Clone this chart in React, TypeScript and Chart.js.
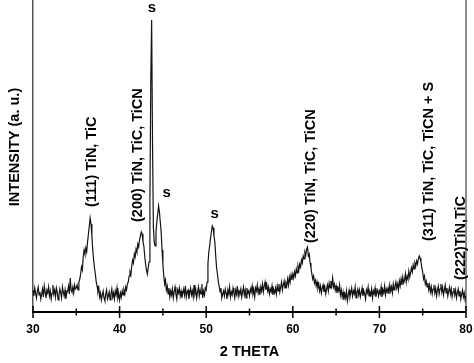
import React, { useEffect, useRef } from "react";
import { Chart, registerables } from "chart.js";

Chart.register(...registerables);

// 2θ grid: start angle and step of the scan
const START_ANGLE = 30;
const ANGLE_STEP = 0.1;

// Intensity (a.u.), one value every 0.1° from 30° to 80°
const intensity = [
  22, 16, 24, 19, 14, 21, 25, 17, 20, 13, // 30
  18, 23, 15, 26, 20, 14, 22, 19, 25, 16, // 31
  21, 13, 19, 27, 18, 22, 15, 24, 20, 12, // 32
  17, 23, 19, 14, 25, 20, 16, 22, 13, 19, // 33
  21, 26, 18, 34, 22, 20, 25, 19, 27, 23, // 34
  24, 27, 22, 30, 33, 38, 45, 42, 55, 62, // 35
  58, 64, 60, 70, 78, 86, 94, 88, 76, 62, // 36
  52, 44, 38, 30, 26, 20, 24, 15, 19, 12, // 37
  17, 21, 14, 11, 18, 22, 13, 16, 20, 12, // 38
  18, 23, 15, 19, 13, 21, 17, 24, 14, 18, // 39
  12, 19, 15, 21, 17, 22, 18, 25, 22, 28, // 40
  30, 36, 40, 37, 46, 52, 49, 58, 55, 63, // 41
  60, 68, 65, 72, 76, 80, 78, 70, 66, 56, // 42
  48, 42, 38, 44, 50, 110, 230, 292, 170, 85, // 43
  70, 66, 80, 90, 98, 106, 100, 90, 80, 62, // 44
  48, 36, 28, 32, 22, 26, 18, 24, 15, 21, // 45
  17, 23, 14, 20, 25, 18, 13, 22, 19, 24, // 46
  16, 21, 14, 19, 23, 17, 26, 15, 20, 22, // 47
  13, 19, 24, 17, 21, 15, 27, 18, 22, 14, // 48
  20, 25, 16, 22, 18, 28, 14, 21, 17, 24, // 49
  22, 30, 48, 60, 66, 74, 80, 86, 84, 76, // 50
  70, 56, 44, 38, 30, 26, 20, 24, 14, 18, // 51
  21, 16, 23, 19, 13, 22, 18, 25, 15, 20, // 52
  17, 24, 19, 14, 22, 18, 26, 16, 21, 19, // 53
  23, 15, 20, 25, 17, 22, 14, 24, 19, 21, // 54
  16, 23, 20, 26, 18, 22, 15, 24, 21, 27, // 55
  19, 23, 17, 25, 21, 28, 20, 26, 30, 22, // 56
  27, 21, 25, 18, 23, 20, 26, 17, 22, 19, // 57
  24, 18, 26, 21, 28, 20, 25, 30, 22, 27, // 58
  31, 24, 29, 26, 33, 27, 35, 30, 37, 32, // 59
  38, 34, 40, 36, 43, 39, 46, 42, 48, 45, // 60
  52, 49, 56, 53, 60, 57, 63, 65, 56, 58, // 61
  49, 44, 38, 33, 36, 29, 32, 26, 30, 24, // 62
  28, 21, 26, 19, 24, 27, 20, 25, 18, 23, // 63
  27, 21, 29, 24, 31, 26, 34, 25, 28, 22, // 64
  26, 19, 24, 21, 27, 17, 22, 15, 20, 12, // 65
  18, 14, 21, 11, 17, 22, 15, 19, 24, 16, // 66
  21, 18, 25, 14, 20, 23, 17, 22, 15, 19, // 67
  24, 16, 21, 18, 13, 22, 19, 25, 16, 20, // 68
  17, 23, 14, 21, 18, 24, 15, 20, 22, 16, // 69
  21, 18, 25, 15, 22, 19, 26, 17, 23, 20, // 70
  24, 18, 27, 21, 25, 19, 28, 22, 26, 30, // 71
  24, 28, 22, 31, 26, 33, 27, 35, 29, 32, // 72
  38, 30, 36, 33, 41, 35, 39, 44, 40, 47, // 73
  43, 49, 46, 51, 48, 53, 56, 54, 50, 44, // 74
  40, 33, 36, 28, 31, 25, 29, 22, 27, 20, // 75
  25, 18, 23, 27, 19, 24, 16, 22, 26, 18, // 76
  23, 28, 20, 25, 17, 22, 27, 19, 24, 16, // 77
  21, 25, 18, 23, 15, 20, 24, 17, 22, 14, // 78
  19, 23, 16, 21, 13, 18, 22, 15, 19, 12, // 79
  16, // 80
];

// Axis ticks
const majorTicks = [30, 40, 50, 60, 70, 80];
const minorTicks = [35, 45, 55, 65, 75];

// Peak annotations (rotated), anchored at their lower end
const peakLabels = [
  "(111) TiN, TiC",
  "(200) TiN, TiC, TiCN",
  "(220) TiN, TiC, TiCN",
  "(311) TiN, TiC, TiCN + S",
  "(222)TiN,TiC",
];
const peakLabelAngles = [36.76, 42.07, 62.1, 75.75, 79.45];
const peakLabelLevels = [105, 90, 69, 71, 32];

// Substrate peak marks
const substrateLabel = "s";
const substrateAngles = [43.74, 45.44, 50.98];
const substrateLevels = [304, 119.5, 98];

const xTitle = "2 THETA";
const yTitle = "INTENSITY (a. u.)";

const FONT = "'Liberation Sans', Arial, Helvetica, sans-serif";

const annotationPlugin = {
  id: "xrdAnnotations",
  afterDraw(chart: any) {
    const { ctx, chartArea, scales } = chart;
    const xs = scales.x;
    const ys = scales.y;
    ctx.save();
    // tick marks crossing the x axis
    ctx.strokeStyle = "#000";
    ctx.lineWidth = 1.5;
    const axisY = chartArea.bottom;
    majorTicks.forEach((v) => {
      const px = xs.getPixelForValue(v);
      ctx.beginPath();
      ctx.moveTo(px, axisY - 6);
      ctx.lineTo(px, axisY + 6);
      ctx.stroke();
    });
    minorTicks.forEach((v) => {
      const px = xs.getPixelForValue(v);
      ctx.beginPath();
      ctx.moveTo(px, axisY - 3.5);
      ctx.lineTo(px, axisY + 3.5);
      ctx.stroke();
    });

    // rotated peak labels
    ctx.fillStyle = "#000";
    ctx.font = `bold 14.5px ${FONT}`;
    ctx.textAlign = "left";
    ctx.textBaseline = "middle";
    peakLabels.forEach((t, i) => {
      const px = xs.getPixelForValue(peakLabelAngles[i]);
      const py = ys.getPixelForValue(peakLabelLevels[i]);
      ctx.save();
      ctx.translate(px, py);
      ctx.rotate(-Math.PI / 2);
      ctx.fillText(t, 0, 0);
      ctx.restore();
    });

    // substrate marks
    ctx.font = `bold 15px ${FONT}`;
    ctx.textAlign = "center";
    ctx.textBaseline = "middle";
    substrateAngles.forEach((a, i) => {
      ctx.fillText(substrateLabel, xs.getPixelForValue(a), ys.getPixelForValue(substrateLevels[i]));
    });

    // y axis title
    ctx.font = `bold 14.5px ${FONT}`;
    ctx.save();
    ctx.translate(chartArea.left - 18, (chartArea.top + chartArea.bottom) / 2 - 9);
    ctx.rotate(-Math.PI / 2);
    ctx.textAlign = "center";
    ctx.textBaseline = "middle";
    ctx.fillText(yTitle, 0, 0);
    ctx.restore();

    ctx.restore();
  },
};

export default function App() {
  const canvasRef = useRef<HTMLCanvasElement | null>(null);

  useEffect(() => {
    const canvas = canvasRef.current;
    if (!canvas) return;
    const points = intensity.map((v, i) => ({
      x: START_ANGLE + i * ANGLE_STEP,
      y: v,
    }));
    const chart = new Chart(canvas, {
      type: "line",
      data: {
        datasets: [
          {
            data: points,
            borderColor: "#141414",
            borderWidth: 1.2,
            pointRadius: 0,
            tension: 0,
            fill: false,
          },
        ],
      },
      options: {
        animation: false,
        responsive: false,
        parsing: false as any,
        layout: { padding: { left: 33, right: 8, top: 0, bottom: 2.2 } },
        plugins: {
          legend: { display: false },
          tooltip: { enabled: false },
        },
        scales: {
          x: {
            type: "linear",
            min: 30,
            max: 80,
            grid: { display: false, drawTicks: true, tickLength: 9 },
            border: { display: true, color: "#000", width: 2 },
            ticks: {
              stepSize: 10,
              padding: 1,
              maxRotation: 0,
              color: "#000",
              font: { family: FONT, size: 12, weight: "bold" },
            },
            title: {
              display: true,
              text: xTitle,
              color: "#000",
              font: { family: FONT, size: 14.5, weight: "bold" },
              padding: { top: 6, bottom: 0 },
            },
          },
          y: {
            type: "linear",
            min: 0,
            max: 312,
            grid: { display: false, drawTicks: false },
            border: { display: true, color: "#555", width: 1.5 },
            ticks: { display: false },
          },
          y2: {
            type: "linear",
            position: "right",
            min: 0,
            max: 1,
            grid: { display: false, drawTicks: false },
            border: { display: true, color: "#8c8c8c", width: 2 },
            ticks: { display: false },
          },
        },
      },
      plugins: [annotationPlugin],
    });
    return () => chart.destroy();
  }, []);

  return (
    <canvas
      ref={canvasRef}
      width={474}
      height={363}
      style={{ position: "absolute", left: 0, top: 0, width: 474, height: 363, background: "#fff" }}
    />
  );
}
